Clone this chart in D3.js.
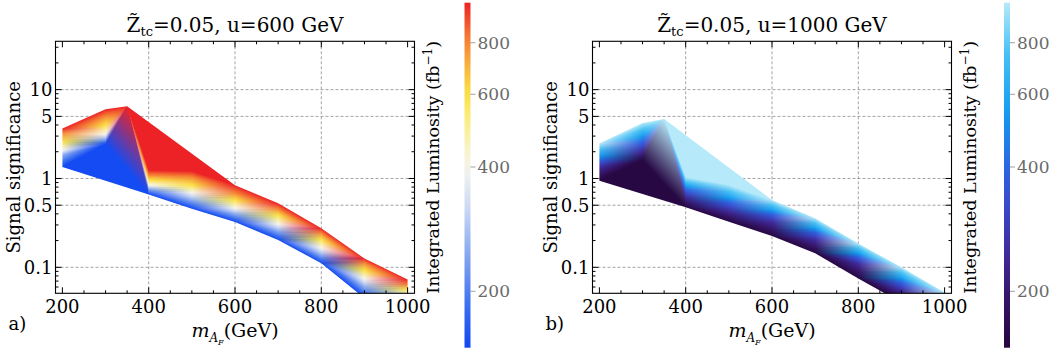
<!DOCTYPE html>
<html><head><meta charset="utf-8">
<script src="https://cdn.jsdelivr.net/npm/d3@7"></script>
<style>body{margin:0;background:#fff} svg{display:block}</style>
</head><body>
<svg id="chart" width="1052" height="351"></svg>
<script>
// ---------------- data ----------------
const masses = [200, 300, 350, 400, 500, 600, 700, 800, 900, 1000];
const lumLevels = [150, 250, 400, 600, 800, 1000];
const xTicks = [200, 400, 600, 800, 1000];
const yTicks = [0.1, 0.5, 1, 5, 10];
const lumTicks = [200, 400, 600, 800];

// panel a) u = 600 GeV : significance at each luminosity level
const sigA_L150  = [1.35, 2.44, null, 0.66, 0.456, 0.324, 0.203, 0.111, 0.045, 0.028];
const sigA_L250  = [1.83, 2.77, null, 0.76, 0.57, 0.398, 0.256, 0.137, 0.060, 0.038];
const sigA_L400  = [2.09, 3.16, null, 0.84, 0.69, 0.465, 0.307, 0.165, 0.074, 0.048];
const sigA_L600  = [2.59, 3.99, null, 0.96, 0.84, 0.571, 0.388, 0.208, 0.093, 0.057];
const sigA_L800  = [3.24, 5.04, null, 1.09, 1.04, 0.685, 0.453, 0.243, 0.112, 0.063];
const sigA_L1000 = [3.66, 6.00, 6.52, 1.24, 1.21, 0.840, 0.525, 0.275, 0.126, 0.073];

// panel b) u = 1000 GeV
const sigB_L150  = [0.94, 1.61, null, 0.473, 0.326, 0.225, 0.144, 0.075, 0.040, 0.020];
const sigB_L250  = [1.34, 2.03, null, 0.618, 0.43, 0.324, 0.203, 0.109, 0.055, 0.028];
const sigB_L400  = [1.61, 2.57, null, 0.741, 0.54, 0.398, 0.249, 0.131, 0.068, 0.034];
const sigB_L600  = [1.88, 3.16, null, 0.843, 0.63, 0.453, 0.284, 0.149, 0.078, 0.040];
const sigB_L800  = [2.20, 3.69, null, 0.935, 0.74, 0.515, 0.324, 0.169, 0.090, 0.046];
const sigB_L1000 = [2.48, 4.20, 4.66, 1.040, 0.85, 0.571, 0.356, 0.186, 0.100, 0.052];

// masses forming the outline of the filled region
const hullTopMasses = [200, 300, 350, 600, 700, 800, 900, 1000];
const hullBottomMasses = [200, 400, 500, 600, 700, 800, 900, 1000];

// ---------------- styling ----------------
const W = 1052, H = 351;
const FONT = "DejaVu Serif, Liberation Serif, serif";
const tempStops = [0, 0.12, 0.27, 0.40, 0.52, 0.62, 0.73, 0.82, 0.90, 1];
const tempColors = ["#1046f2", "#3a6ef0", "#86a8f0", "#c9d7f3", "#f6f5ef", "#faf1a6", "#fbe447", "#f8b23f", "#f47a33", "#ec2226"];
const seaStops = [0, 0.12, 0.25, 0.40, 0.52, 0.68, 0.85, 1];
const seaColors = ["#25073f", "#33115e", "#402592", "#3a46c6", "#2d63e0", "#139cf0", "#46c0f4", "#b6e9f9"];

const panels = [
  {label: "a)", u: "600", left: 55.5, right: 414.5, levels: [sigA_L150, sigA_L250, sigA_L400, sigA_L600, sigA_L800, sigA_L1000],
   cmap: d3.scaleLinear().domain(tempStops).range(tempColors).interpolate(d3.interpolateRgb), barX: 464.5},
  {label: "b)", u: "1000", left: 592.5, right: 951.5, levels: [sigB_L150, sigB_L250, sigB_L400, sigB_L600, sigB_L800, sigB_L1000],
   cmap: d3.scaleLinear().domain(seaStops).range(seaColors).interpolate(d3.interpolateRgb), barX: 1004}
];
const TOP = 41.3, BOTTOM = 293.3;

const svg = d3.select("#chart");
svg.append("rect").attr("width", W).attr("height", H).attr("fill", "#fff");
const defs = svg.append("defs");

const tScale = d3.scaleLog().domain([146, 1000]).range([0, 1]);
const barScale = d3.scaleLog().domain([146, 1000]).range([347.7, 2.7]);

// triangulate in data space (mass, log significance), shade in pixel space (vertex colours)
function rasterField(dataPts, pts, cols) {
  const del = d3.Delaunay.from(dataPts);
  const tri = del.triangles;
  const data = new Uint8ClampedArray(W * H * 4);
  for (let t = 0; t < tri.length; t += 3) {
    const ia = tri[t], ib = tri[t + 1], ic = tri[t + 2];
    const [ax, ay] = pts[ia], [bx, by] = pts[ib], [cx, cy] = pts[ic];
    const ca = cols[ia], cb = cols[ib], cc = cols[ic];
    const den = (by - cy) * (ax - cx) + (cx - bx) * (ay - cy);
    if (Math.abs(den) < 1e-9) continue;
    const x0 = Math.max(0, Math.floor(Math.min(ax, bx, cx))), x1 = Math.min(W - 1, Math.ceil(Math.max(ax, bx, cx)));
    const y0 = Math.max(0, Math.floor(Math.min(ay, by, cy))), y1 = Math.min(H - 1, Math.ceil(Math.max(ay, by, cy)));
    for (let py = y0; py <= y1; py++) {
      for (let px = x0; px <= x1; px++) {
        const X = px + 0.5, Y = py + 0.5;
        const wa = ((by - cy) * (X - cx) + (cx - bx) * (Y - cy)) / den;
        const wb = ((cy - ay) * (X - cx) + (ax - cx) * (Y - cy)) / den;
        const wc = 1 - wa - wb;
        if (wa < -1e-6 || wb < -1e-6 || wc < -1e-6) continue;
        const k = (py * W + px) * 4;
        data[k] = wa * ca.r + wb * cb.r + wc * cc.r;
        data[k + 1] = wa * ca.g + wb * cb.g + wc * cc.g;
        data[k + 2] = wa * ca.b + wb * cb.b + wc * cc.b;
        data[k + 3] = 255;
      }
    }
  }
  for (let pass = 0; pass < 2; pass++) {
    const src = data.slice();
    for (let py = 1; py < H - 1; py++) for (let px = 1; px < W - 1; px++) {
      const k = (py * W + px) * 4;
      if (src[k + 3]) continue;
      for (const [dx, dy] of [[1,0],[-1,0],[0,1],[0,-1]]) {
        const n = ((py + dy) * W + px + dx) * 4;
        if (src[n + 3]) { data[k] = src[n]; data[k+1] = src[n+1]; data[k+2] = src[n+2]; data[k+3] = 255; break; }
      }
    }
  }
  return data;
}

panels.forEach((p, pi) => {
  const x = d3.scaleLinear().domain([184, 1016]).range([p.left, p.right]);
  const y = d3.scaleLog().domain([0.051, 35]).range([BOTTOM, TOP]);
  const g = svg.append("g").attr("font-family", FONT);
  const cx = (p.left + p.right) / 2;

  // grid
  g.selectAll(".gx").data([400, 600, 800]).join("line")
    .attr("x1", d => x(d)).attr("x2", d => x(d)).attr("y1", TOP).attr("y2", BOTTOM)
    .attr("stroke", "#999").attr("stroke-width", 0.9).attr("stroke-dasharray", "3,2");
  g.selectAll(".gy").data(yTicks).join("line")
    .attr("x1", p.left).attr("x2", p.right).attr("y1", d => y(d)).attr("y2", d => y(d))
    .attr("stroke", "#999").attr("stroke-width", 0.9).attr("stroke-dasharray", "3,2");

  // field: mesh vertices along each mass column (finer shading steps between read levels)
  const pts = [], dpts = [], cols = [];
  const addPt = (m, s, t) => {
    pts.push([x(m), y(s)]);
    dpts.push([m / 100, Math.log10(s) * 0.02]);
    cols.push(d3.rgb(p.cmap(t)));
  };
  const SUB = 3;
  masses.forEach((m, i) => {
    const col = p.levels.map((arr, j) => [arr[i], tScale(lumLevels[j])]).filter(d => d[0] != null);
    col.forEach((d, k) => {
      addPt(m, d[0], d[1]);
      if (k < col.length - 1) {
        const e = col[k + 1];
        for (let q = 1; q <= SUB; q++) {
          const f = q / (SUB + 1);
          addPt(m, Math.pow(10, Math.log10(d[0]) * (1 - f) + Math.log10(e[0]) * f), d[1] * (1 - f) + e[1] * f);
        }
      }
    });
  });
  const data = rasterField(dpts, pts, cols);
  const c1 = document.createElement("canvas"); c1.width = W; c1.height = H;
  c1.getContext("2d").putImageData(new ImageData(data, W, H), 0, 0);
  const c2 = document.createElement("canvas"); c2.width = W; c2.height = H;
  const ctx = c2.getContext("2d");
  ctx.beginPath(); ctx.rect(p.left, TOP, p.right - p.left, BOTTOM - TOP); ctx.clip();
  const topArr = p.levels[p.levels.length - 1], botArr = p.levels[0];
  ctx.beginPath();
  hullTopMasses.forEach((m, k) => { const i = masses.indexOf(m); const X = x(m), Y = y(topArr[i]); k ? ctx.lineTo(X, Y) : ctx.moveTo(X, Y); });
  hullBottomMasses.slice().reverse().forEach(m => { const i = masses.indexOf(m); ctx.lineTo(x(m), y(botArr[i])); });
  ctx.closePath(); ctx.clip();
  ctx.drawImage(c1, 0, 0);
  g.append("image").attr("x", 0).attr("y", 0).attr("width", W).attr("height", H).attr("href", c2.toDataURL());

  // frame & ticks
  g.append("rect").attr("x", p.left).attr("y", TOP).attr("width", p.right - p.left).attr("height", BOTTOM - TOP)
    .attr("fill", "none").attr("stroke", "#000").attr("stroke-width", 1.1);
  const minorX = d3.range(200, 1001, 50).filter(v => v % 200 !== 0);
  const tk = (vals, len) => vals.forEach(v => {
    const X = x(v);
    g.append("line").attr("x1", X).attr("x2", X).attr("y1", BOTTOM).attr("y2", BOTTOM - len).attr("stroke", "#000");
    g.append("line").attr("x1", X).attr("x2", X).attr("y1", TOP).attr("y2", TOP + len).attr("stroke", "#000");
  });
  tk(xTicks, 6); tk(minorX, 3);
  const minorY = [0.06, 0.07, 0.08, 0.09, 0.2, 0.3, 0.4, 0.6, 0.7, 0.8, 0.9, 2, 3, 4, 6, 7, 8, 9, 20, 30];
  const tky = (vals, len) => vals.forEach(v => {
    const Y = y(v);
    g.append("line").attr("x1", p.left).attr("x2", p.left + len).attr("y1", Y).attr("y2", Y).attr("stroke", "#000");
    g.append("line").attr("x1", p.right).attr("x2", p.right - len).attr("y1", Y).attr("y2", Y).attr("stroke", "#000");
  });
  tky(yTicks, 6); tky(minorY, 3);

  // tick labels
  g.selectAll(".xl").data(xTicks).join("text").attr("x", d => x(d)).attr("y", 313)
    .attr("text-anchor", "middle").attr("font-size", 18).text(d => d);
  g.selectAll(".yl").data(yTicks).join("text").attr("x", p.left - 3).attr("y", d => y(d) + 6.5)
    .attr("text-anchor", "end").attr("font-size", 18).text(d => d);

  // title
  const tt = g.append("text").attr("x", cx).attr("y", 32).attr("text-anchor", "middle").attr("font-size", 20);
  tt.append("tspan").text("Z\u0303");
  tt.append("tspan").attr("font-size", 13).attr("dy", 4).text("tc");
  tt.append("tspan").attr("dy", -4).text("=0.05, u=" + p.u + " GeV");

  // x label
  const xl = g.append("text").attr("x", cx).attr("y", 337).attr("text-anchor", "middle").attr("font-size", 19);
  xl.append("tspan").attr("font-style", "italic").text("m");
  xl.append("tspan").attr("font-style", "italic").attr("font-size", 12).attr("dy", 5).text("A");
  xl.append("tspan").attr("font-style", "italic").attr("font-size", 8).attr("dy", 3).text("F");
  xl.append("tspan").attr("dy", -8).text("(GeV)");

  // y label
  g.append("text").attr("transform", `translate(${p.left - 36},${(TOP + BOTTOM) / 2}) rotate(-90)`)
    .attr("text-anchor", "middle").attr("font-size", 18).text("Signal significance");

  // right label
  const rl = g.append("text").attr("transform", `translate(${p.right + 24},${(TOP + BOTTOM) / 2}) rotate(-90)`)
    .attr("text-anchor", "middle").attr("font-size", 17.5);
  rl.append("tspan").text("Integrated Luminosity (fb");
  rl.append("tspan").attr("font-size", 12).attr("dy", -7).text("\u22121");
  rl.append("tspan").attr("dy", 7).text(")");

  // panel label
  g.append("text").attr("x", p.left - 47).attr("y", 330).attr("font-size", 18).text(p.label);

  // colour bar
  const gid = "grad" + pi;
  const grad = defs.append("linearGradient").attr("id", gid).attr("x1", 0).attr("y1", 1).attr("x2", 0).attr("y2", 0);
  d3.range(0, 1.0001, 0.05).forEach(t => grad.append("stop").attr("offset", t).attr("stop-color", p.cmap(t)));
  g.append("rect").attr("x", p.barX).attr("y", barScale(1000)).attr("width", 6)
    .attr("height", barScale(146) - barScale(1000)).attr("fill", `url(#${gid})`);
  lumTicks.forEach(v => {
    g.append("line").attr("x1", p.barX + 6).attr("x2", p.barX + 11).attr("y1", barScale(v)).attr("y2", barScale(v))
      .attr("stroke", "#888").attr("stroke-width", 0.8);
    g.append("text").attr("x", p.barX + 13).attr("y", barScale(v) + 6)
      .attr("font-size", 17).attr("fill", "#6a6a6a").text(v);
  });
});
</script>
</body></html>
